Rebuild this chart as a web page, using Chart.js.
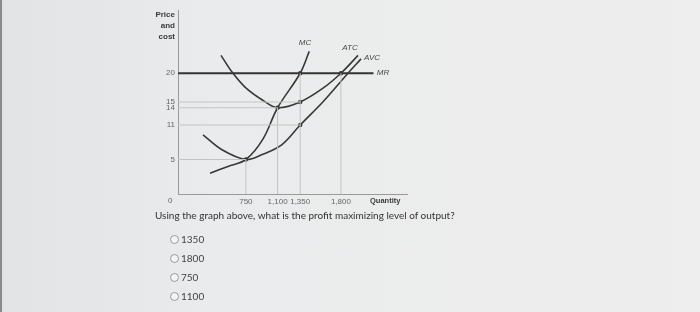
<!DOCTYPE html>
<html lang="en">
<head>
    <meta charset="UTF-8">
    <title>Profit maximizing output</title>
    <script src="https://cdn.jsdelivr.net/npm/chart.js"></script>
    <style>
        body {
            margin: 0;
            width: 700px;
            height: 312px;
            overflow: hidden;
            position: relative;
            background: linear-gradient(to right, #e2e3e5 0%, #eaebec 30%, #eeeeee 100%);
            font-family: Lato, "Open Sans", sans-serif;
        }
        #edge {
            position: absolute; left: 0; top: 0; width: 2px; height: 312px; background: #8a8a8a;
        }
        #chart {
            position: absolute; left: 0; top: 0;
        }
        .lbl {
            position: absolute;
            font-family: "Liberation Sans", Arial, sans-serif;
            color: #444;
            font-size: 8px;
        }
        #axisName {
            right: 525px; /* right edge near x=175 */
            top: 9px;
            text-align: right;
            line-height: 11px;
            font-weight: bold;
            color: #3a3a3a;
        }
        #origin { left: 168px; top: 196px; color: #666; }
        #qty { left: 370px; top: 196px; font-weight: bold; color: #3a3a3a; font-size: 7.5px; }
        #question {
            position: absolute;
            left: 155px;
            top: 209px;
            font-size: 10px;
            color: #333;
            white-space: nowrap;
        }
        .opt {
            position: absolute;
            left: 170px;
            font-size: 10px;
            color: #444;
            height: 12px;
            line-height: 12px;
        }
        .opt span.dot {
            display: inline-block;
            width: 7px; height: 7px;
            border: 1px solid #999;
            border-radius: 50%;
            background: #f4f4f4;
            vertical-align: -1px;
            margin-right: 2px;
        }
    </style>
</head>
<body>
    <div id="edge"></div>
    <canvas id="chart" width="700" height="210"></canvas>

    <div class="lbl" id="axisName">Price<br>and<br>cost</div>
    <div class="lbl" id="origin">0</div>
    <div class="lbl" id="qty">Quantity</div>

    <div id="question">Using the graph above, what is the profit maximizing level of output?</div>
    <div class="opt" style="top:233px"><span class="dot"></span>1350</div>
    <div class="opt" style="top:252px"><span class="dot"></span>1800</div>
    <div class="opt" style="top:271px"><span class="dot"></span>750</div>
    <div class="opt" style="top:290px"><span class="dot"></span>1100</div>

    <script>
        // tick values
        const xTicks = [750, 1100, 1350, 1800];
        const yTicks = [5, 11, 14, 15, 20];

        // cost curves (quantity, price)
        const mcQ = [354, 552, 750, 940, 1100, 1350, 1450];
        const mcP = [2.6, 3.8, 5, 8.6, 14, 20, 23.8];
        const atcQ = [475, 597, 740, 928, 1100, 1350, 1602, 1800, 1989];
        const atcP = [23.1, 20.2, 17.6, 15.4, 14, 15, 17.4, 20, 23.1];
        const avcQ = [276, 486, 750, 928, 1149, 1350, 1600, 1878, 2022];
        const avcP = [9.3, 6.7, 5, 5.85, 7.6, 11, 15, 20, 22.5];
        const mrQ = [0, 2160];
        const mrP = [20, 20];

        // marked intersections
        const dotQ = [750, 1100, 1350, 1350, 1350, 1800];
        const dotP = [5, 14, 15, 11, 20, 20];

        // guide lines (value, where they end)
        const hGuideP = [15, 14, 11, 5];
        const hGuideEndQ = [1350, 1100, 1350, 750];
        const vGuideQ = [750, 1100, 1350, 1800];
        const vGuideTopP = [5, 14, 20, 20];

        // curve names and where they sit
        const curveNames = ['MC', 'ATC', 'AVC', 'MR'];
        const curveNameQ = [1403, 1900, 2144, 2265];
        const curveNameP = [25.3, 24.4, 22.7, 20];

        const Y_MIN = -1, Y_MAX = 31, X_MAX = 2530;

        const zip = (qs, ps) => qs.map((q, i) => ({ x: q, y: ps[i] }));

        const datasets = [];
        hGuideP.forEach((p, i) => datasets.push({
            data: [{ x: 0, y: p }, { x: hGuideEndQ[i], y: p }],
            borderColor: '#c4c4c4', borderWidth: 1, pointRadius: 0
        }));
        vGuideQ.forEach((q, i) => datasets.push({
            data: [{ x: q, y: Y_MIN }, { x: q, y: vGuideTopP[i] }],
            borderColor: '#c4c4c4', borderWidth: 1, pointRadius: 0
        }));

        const curve = (qs, ps) => ({
            data: zip(qs, ps),
            borderColor: '#383838', borderWidth: 1.6, pointRadius: 0,
            tension: 0.35
        });
        datasets.push(curve(mcQ, mcP), curve(atcQ, atcP), curve(avcQ, avcP));
        datasets.push({
            data: zip(mrQ, mrP), borderColor: '#333', borderWidth: 2, pointRadius: 0
        });
        datasets.push({
            data: zip(dotQ, dotP), showLine: false,
            pointRadius: 2.2, pointBackgroundColor: '#333', pointBorderWidth: 0
        });

        // writes MC / ATC / AVC / MR next to their lines
        const curveNamePlugin = {
            id: 'curveNames',
            afterDatasetsDraw(chart) {
                const { ctx, scales } = chart;
                ctx.save();
                ctx.font = 'italic 8px "Liberation Sans", Arial, sans-serif';
                ctx.fillStyle = '#4a4a4a';
                ctx.textAlign = 'center';
                ctx.textBaseline = 'middle';
                curveNames.forEach((name, i) => {
                    ctx.fillText(name, scales.x.getPixelForValue(curveNameQ[i]),
                        scales.y.getPixelForValue(curveNameP[i]));
                });
                ctx.restore();
            }
        };

        new Chart(document.getElementById('chart'), {
            type: 'line',
            data: { datasets: datasets },
            plugins: [curveNamePlugin],
            options: {
                responsive: false,
                animation: false,
                layout: { padding: { left: 156, top: 10, right: 293, bottom: 2 } },
                plugins: { legend: { display: false }, tooltip: { enabled: false } },
                scales: {
                    x: {
                        type: 'linear', min: 0, max: X_MAX,
                        grid: { display: false, drawTicks: false },
                        border: { display: true, color: '#9a9a9a', width: 1 },
                        afterBuildTicks: s => { s.ticks = xTicks.map(v => ({ value: v })); },
                        afterFit: s => { s.height = 14; },
                        ticks: {
                            autoSkip: false, maxRotation: 0, padding: 3,
                            color: '#666',
                            font: { family: '"Liberation Sans", Arial, sans-serif', size: 8 },
                            callback: v => v.toLocaleString('en-US')
                        }
                    },
                    y: {
                        type: 'linear', min: Y_MIN, max: Y_MAX,
                        grid: { display: false, drawTicks: false },
                        border: { display: true, color: '#9a9a9a', width: 1 },
                        afterBuildTicks: s => { s.ticks = yTicks.map(v => ({ value: v })); },
                        afterFit: s => { s.width = 22; },
                        ticks: {
                            autoSkip: false, padding: 3,
                            color: '#666',
                            font: { family: '"Liberation Sans", Arial, sans-serif', size: 8 }
                        }
                    }
                }
            }
        });
    </script>
</body>
</html>
